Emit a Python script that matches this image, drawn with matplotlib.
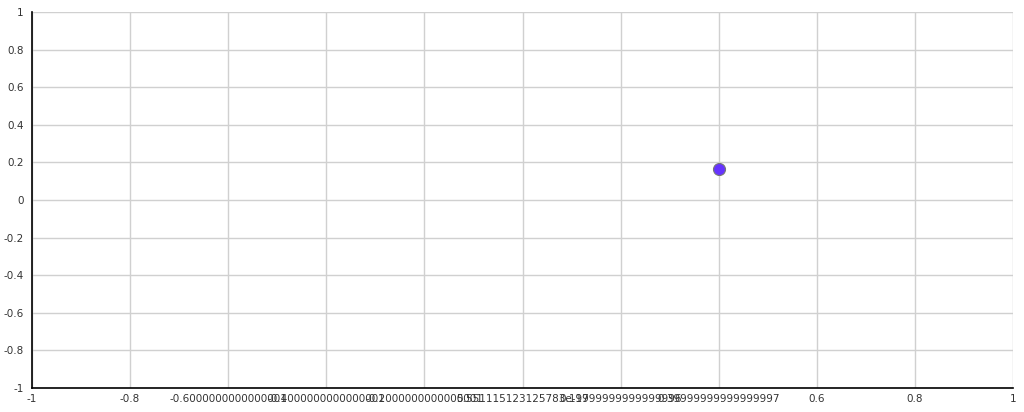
import matplotlib
matplotlib.use("Agg")
import matplotlib.pyplot as plt

# single point
xs = [0.4]
ys = [0.165]

# tick values built the way the original axis did it (accumulated float steps)
x_ticks = [-1, -0.8, -0.6000000000000001, -0.4000000000000001, -0.2000000000000001,
           5.551115123125783e-17, 0.19999999999999996, 0.39999999999999997, 0.6, 0.8, 1]
y_ticks = [-1, -0.8, -0.6, -0.4, -0.2, 0, 0.2, 0.4, 0.6, 0.8, 1]
x_labels = ["-1", "-0.8", "-0.6000000000000001", "-0.4000000000000001", "-0.2000000000000001",
            "5.551115123125783e-17", "0.19999999999999996", "0.39999999999999997", "0.6", "0.8", "1"]
y_labels = ["-1", "-0.8", "-0.6", "-0.4", "-0.2", "0", "0.2", "0.4", "0.6", "0.8", "1"]

fig = plt.figure(figsize=(10.24, 4.12), dpi=100)
ax = fig.add_axes([32 / 1024, 24 / 412, 981 / 1024, 376 / 412])

ax.scatter(xs, ys, s=75, color="#6633ff", edgecolors="#777777", linewidths=0.8, zorder=3)

ax.set_xlim(-1, 1)
ax.set_ylim(-1, 1)
ax.set_xticks(x_ticks)
ax.set_xticklabels(x_labels)
ax.set_yticks(y_ticks)
ax.set_yticklabels(y_labels)
ax.tick_params(length=0, labelsize=7.5, colors="#333333")
ax.tick_params(axis="x", pad=4)
ax.tick_params(axis="y", pad=6)
ax.grid(True, color="#d0d0d0", linewidth=1)
ax.set_axisbelow(True)

for side in ["top", "right"]:
    ax.spines[side].set_visible(False)
ax.spines["left"].set_color("black")
ax.spines["bottom"].set_color("black")
ax.spines["left"].set_linewidth(1.2)
ax.spines["bottom"].set_linewidth(1.2)

fig.savefig("out.png", dpi=100)
